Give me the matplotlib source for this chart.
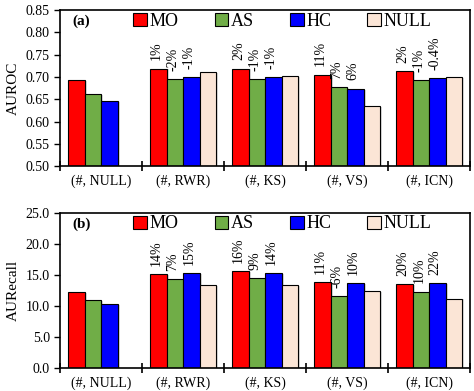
import matplotlib
matplotlib.use("Agg")
import matplotlib.pyplot as plt
from matplotlib.patches import Patch
import numpy as np

plt.rcParams['font.family'] = ['Liberation Serif', 'DejaVu Serif']

groups = ["(#, NULL)", "(#, RWR)", "(#, KS)", "(#, VS)", "(#, ICN)"]
series = ["MO", "AS", "HC", "NULL"]
colors = ["#FF0000", "#70AD47", "#0000FF", "#FBE5D6"]

auroc = {
    "MO":   [0.693, 0.719, 0.719, 0.705, 0.713],
    "AS":   [0.661, 0.695, 0.695, 0.677, 0.693],
    "HC":   [0.647, 0.700, 0.699, 0.674, 0.697],
    "NULL": [np.nan, 0.711, 0.703, 0.635, 0.699],
}
auroc_pct = {
    "MO": ["", "1%", "2%", "11%", "2%"],
    "AS": ["", "-2%", "-1%", "7%", "-1%"],
    "HC": ["", "-1%", "-1%", "6%", "-0.4%"],
}
aurecall = {
    "MO":   [12.3, 15.1, 15.6, 13.8, 13.5],
    "AS":   [10.95, 14.3, 14.5, 11.6, 12.3],
    "HC":   [10.3, 15.25, 15.25, 13.65, 13.65],
    "NULL": [np.nan, 13.35, 13.45, 12.4, 11.2],
}
aurecall_pct = {
    "MO": ["", "14%", "16%", "11%", "20%"],
    "AS": ["", "7%", "9%", "-6%", "10%"],
    "HC": ["", "15%", "14%", "10%", "22%"],
}

fig = plt.figure(figsize=(4.74, 3.91), dpi=100)
ax1 = fig.add_axes([0.127, 0.575, 0.865, 0.399])
ax2 = fig.add_axes([0.127, 0.059, 0.865, 0.396])

def draw(ax, data, pct, ylim, yticks, yfmt, ylabel, tag):
    w = 0.2
    x0 = np.arange(len(groups))
    base = ylim[0]
    for i, s in enumerate(series):
        xs = x0 + 0.2 + 0.2 * i
        vals = np.array(data[s], dtype=float)
        # shadow
        ax.bar(xs + 0.025, vals - base, width=w, bottom=base - (ylim[1]-ylim[0])*0.006,
               color="#999999", alpha=0.35, edgecolor="none", zorder=1)
        ax.bar(xs, vals - base, width=w, bottom=base, color=colors[i],
               edgecolor="black", linewidth=0.8, zorder=2)
        if s in pct:
            for xx, v, t in zip(xs, vals, pct[s]):
                if t:
                    ax.annotate(t, (xx, v), xytext=(-1.5, 6), textcoords="offset points",
                                rotation=90, ha="center", va="bottom", fontsize=10, zorder=3)
    ax.set_xlim(0, len(groups))
    ax.set_ylim(*ylim)
    ax.set_yticks(yticks)
    ax.set_yticklabels([yfmt.format(v) for v in yticks], fontsize=10)
    ax.set_xticks(x0 + 0.5)
    ax.set_xticklabels(groups, fontsize=10)
    ax.tick_params(axis="x", which="major", length=0, pad=6)
    ax.set_xticks(np.arange(0, len(groups) + 1), minor=True)
    ax.tick_params(axis="x", which="minor", length=7, direction="inout", width=1.2)
    ax.tick_params(axis="y", length=4, width=1, direction="out")
    for sp in ax.spines.values():
        sp.set_linewidth(1.2)
    ax.set_ylabel(ylabel, fontsize=11, labelpad=4)
    ax.text(0.03, 0.93, tag, transform=ax.transAxes, fontsize=11, fontweight="bold",
            ha="left", va="center")
    handles = [Patch(facecolor=c, edgecolor="black", linewidth=0.8) for c in colors]
    ax.legend(handles, series, ncol=4, loc="center left", bbox_to_anchor=(0.178, 0.93),
              frameon=False, fontsize=13, handlelength=0.75, handleheight=0.75,
              handletextpad=0.15, columnspacing=2.0, borderpad=0, borderaxespad=0)

draw(ax1, auroc, auroc_pct, (0.50, 0.85), np.arange(0.50, 0.851, 0.05), "{:.2f}", "AUROC", "(a)")
draw(ax2, aurecall, aurecall_pct, (0.0, 25.0), np.arange(0, 25.1, 5), "{:.1f}", "AURecall", "(b)")

fig.savefig("out.png", dpi=100)
